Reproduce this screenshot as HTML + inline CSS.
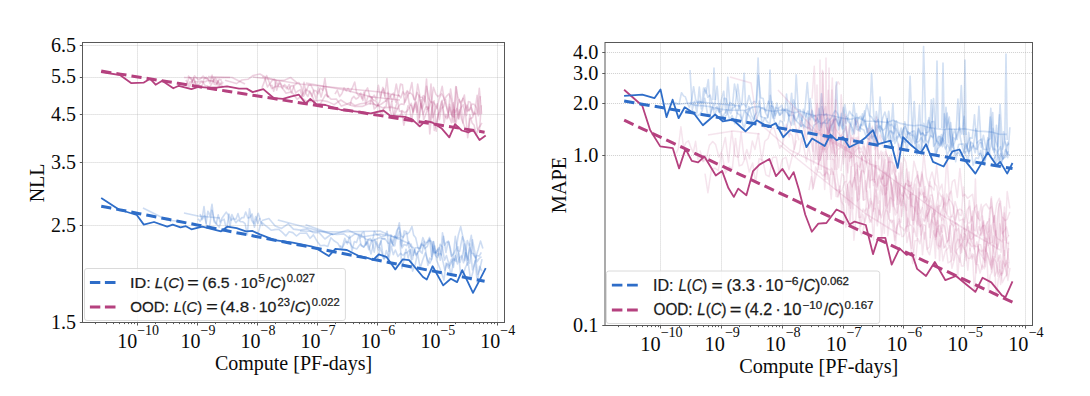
<!DOCTYPE html>
<html><head><meta charset="utf-8"><style>
html,body{margin:0;padding:0;background:#fff;}
svg{display:block;}
.serif{font-family:"Liberation Serif",serif;fill:#0a0a0a;}
.sans{font-family:"Liberation Sans",sans-serif;fill:#1a1a1a;stroke:#1a1a1a;stroke-width:0.25px;}
.it{font-style:italic;}
</style></head><body>
<svg width="1090" height="396" viewBox="0 0 1090 396">
<defs><clipPath id="clipL"><rect x="82.5" y="42.5" width="422" height="280"/></clipPath><clipPath id="clipR"><rect x="605.5" y="42.5" width="427" height="283"/></clipPath><filter id="soft" x="-5%" y="-5%" width="110%" height="110%"><feGaussianBlur stdDeviation="0.45"/></filter></defs>
<path d="M137.50,42.50V322.50M197.50,42.50V322.50M257.50,42.50V322.50M317.50,42.50V322.50M377.50,42.50V322.50M437.50,42.50V322.50M497.50,42.50V322.50M82.50,322.50H504.50M82.50,225.50H504.50M82.50,162.50H504.50M82.50,114.50H504.50M82.50,77.50H504.50M82.50,45.50H504.50" stroke="#b0b0b0" stroke-width="0.9" stroke-dasharray="1.1,0.9" fill="none" opacity="0.62"/>
<g clip-path="url(#clipL)">
<g filter="url(#soft)">
<polyline points="184.0,77.5 207.0,78.0 230.0,77.5" stroke="#b5417f" stroke-opacity="0.24" stroke-width="1.6" fill="none" stroke-linejoin="round"/>
<polyline points="208.0,76.5 232.0,77.5 245.0,84.0" stroke="#b5417f" stroke-opacity="0.24" stroke-width="1.6" fill="none" stroke-linejoin="round"/>
<polyline points="185.0,84.4 186.9,84.9 188.8,77.5 191.0,77.7 193.2,84.1 195.0,81.4 197.3,82.0 199.5,81.6 201.4,81.0 203.3,81.9 205.2,81.8 207.0,80.7 209.1,80.7 211.3,80.5 213.2,81.1 215.1,77.9 217.2,80.7 219.4,85.0 221.5,83.8 223.4,82.4" stroke="#b5417f" stroke-opacity="0.24" stroke-width="1.6" fill="none" stroke-linejoin="round"/>
<polyline points="188.0,75.6 190.1,78.0 192.2,80.8 194.5,75.8 196.6,78.0 198.6,80.0 200.6,78.6 203.1,76.2 205.7,78.5 208.3,79.6 210.6,81.1 212.6,81.4 214.6,82.0 216.9,83.9 219.2,79.4 221.8,80.3" stroke="#b5417f" stroke-opacity="0.24" stroke-width="1.6" fill="none" stroke-linejoin="round"/>
<polyline points="225.0,80.2 231.2,82.0 236.4,83.6 241.9,80.0 247.9,79.3 253.2,75.5 259.9,74.0 265.1,76.9 271.3,78.7 277.2,80.5 283.9,80.4 290.5,77.5 297.2,82.8" stroke="#b5417f" stroke-opacity="0.24" stroke-width="1.6" fill="none" stroke-linejoin="round"/>
<polyline points="186.0,79.9 188.2,85.6 190.0,81.8 191.8,82.3 193.7,79.3 195.7,84.0 197.6,84.7 199.8,86.1 201.9,86.4 204.1,78.6 206.3,77.2 208.2,79.2 210.0,83.4 212.1,75.1 214.3,84.3 216.1,84.8 218.1,80.8 220.0,84.8 222.0,81.2" stroke="#b5417f" stroke-opacity="0.24" stroke-width="1.6" fill="none" stroke-linejoin="round"/>
<polyline points="187.0,87.5 189.5,86.7 191.5,82.8 193.9,78.3 196.2,85.3 198.3,85.2 200.7,82.2 203.0,82.1 205.3,85.9 207.4,85.9 209.5,87.4 211.9,83.5 213.9,79.6 215.8,81.2 218.0,85.2 220.4,87.5 222.4,84.6" stroke="#b5417f" stroke-opacity="0.24" stroke-width="1.6" fill="none" stroke-linejoin="round"/>
<polyline points="270.0,85.7 271.9,85.2 273.7,91.2 276.1,81.0 278.1,85.6 280.0,83.1 282.4,88.5 284.5,84.5 286.5,86.5 288.5,89.7 290.9,86.1 293.3,85.6 295.7,92.9 298.1,90.9 300.3,89.7 302.2,97.0 304.0,82.2 306.0,93.7 307.9,96.5 309.9,90.9 311.9,96.4 313.7,90.4 316.0,90.8 318.0,93.9 320.4,88.0 322.8,90.1 324.9,78.3 327.2,96.4 329.3,96.3" stroke="#b5417f" stroke-opacity="0.24" stroke-width="1.6" fill="none" stroke-linejoin="round"/>
<polyline points="262.0,76.7 264.7,77.4 267.4,86.9 269.9,83.8 272.1,80.5 274.5,79.2 276.7,90.2 279.4,81.5 281.8,85.5 284.0,86.0 286.8,88.7 289.2,84.5 291.4,93.0 294.1,85.6 296.4,83.6 298.9,82.6 301.1,86.4 303.4,96.3 306.0,91.5 308.6,85.3 310.9,85.0 313.6,90.7 316.2,99.9 318.5,87.5 321.1,97.1 323.8,86.8 325.9,89.7 328.2,97.6" stroke="#b5417f" stroke-opacity="0.24" stroke-width="1.6" fill="none" stroke-linejoin="round"/>
<polyline points="262.0,87.9 266.6,75.5 271.6,88.5 276.3,86.2 281.6,87.0 286.1,93.3 291.6,91.8 297.1,99.3 301.5,96.1 305.9,89.1 311.1,93.4 315.6,104.3 320.4,103.8 325.7,94.4 331.1,99.2 336.3,99.0 341.4,106.1 345.8,104.4 350.5,102.5 355.1,105.6 360.4,103.8 366.0,103.1 370.7,100.3 376.5,106.3 381.4,104.0 386.0,100.6" stroke="#b5417f" stroke-opacity="0.24" stroke-width="1.6" fill="none" stroke-linejoin="round"/>
<polyline points="253.0,77.0 276.0,80.0 300.0,84.0 340.0,88.0 380.0,92.0 400.0,96.0" stroke="#b5417f" stroke-opacity="0.24" stroke-width="1.6" fill="none" stroke-linejoin="round"/>
<polyline points="306.0,83.0 325.0,86.5 345.0,90.0 372.0,97.0 400.0,100.0" stroke="#b5417f" stroke-opacity="0.24" stroke-width="1.6" fill="none" stroke-linejoin="round"/>
<polyline points="300.0,96.7 307.4,101.9 313.9,101.1 320.8,100.2 327.8,101.6 334.2,104.6 340.8,100.0 346.9,104.0 355.0,106.4 362.3,106.4 369.7,103.2 376.9,105.0 383.0,108.0 390.9,107.1 398.4,108.9" stroke="#b5417f" stroke-opacity="0.24" stroke-width="1.6" fill="none" stroke-linejoin="round"/>
<polyline points="335.0,94.2 337.3,90.2 339.6,96.5 341.8,93.8 344.1,87.9 346.2,90.8 348.2,88.3 350.2,91.6 352.2,88.2 354.7,82.0 356.6,93.0 358.4,95.2 360.8,93.1 362.9,100.6 365.1,91.9 367.6,87.9 369.7,96.4 372.2,97.9 374.2,95.2 376.2,99.7 378.4,85.4 380.4,97.0 382.9,87.3 384.8,96.0 386.9,78.5 389.0,98.5 391.5,94.9 393.6,93.2 395.9,102.2 398.4,94.7 400.7,97.9 402.9,91.9 404.9,94.9 407.2,90.7 409.4,93.3 411.9,82.6 413.8,99.4 415.8,99.1 417.7,84.1 420.1,97.2 422.5,97.3 424.7,101.7 426.6,86.2 428.8,98.5 431.2,102.7 433.4,87.3 435.9,94.2 438.0,96.6 440.2,94.6 442.2,86.4 444.2,100.2 446.4,96.4 448.9,93.7 451.0,99.0 453.3,122.3 455.8,86.5 457.8,96.9 460.3,102.7 462.3,100.1 464.4,95.1 466.5,115.4 468.4,101.6 470.3,102.2 472.7,114.9 474.6,113.8 477.0,113.5 479.3,88.3 481.6,114.0" stroke="#b5417f" stroke-opacity="0.24" stroke-width="1.6" fill="none" stroke-linejoin="round"/>
<polyline points="390.0,94.8 392.1,101.6 394.1,95.9 396.3,84.0 398.4,95.3 400.5,84.0 402.4,84.7 404.6,102.7 406.6,98.8 408.7,93.5 410.5,93.0 412.4,94.7 414.9,100.1 417.1,92.4 419.6,97.5 422.0,108.9 424.3,102.7 426.5,79.0 428.6,110.7 430.8,101.9 433.1,102.1 435.1,104.5 437.0,108.7 439.2,98.4 441.6,93.7 443.7,97.3 445.9,105.2 448.3,112.4 450.6,89.0 452.9,104.5 454.8,112.7 456.8,108.5 458.8,119.1 461.0,104.7 463.1,98.3 465.1,104.5 467.1,111.1 469.5,109.5 471.8,104.1 474.2,104.3 476.5,107.7 478.4,115.8 480.4,96.2" stroke="#b5417f" stroke-opacity="0.24" stroke-width="1.6" fill="none" stroke-linejoin="round"/>
<polyline points="350.0,105.5 351.8,98.6 353.9,96.4 356.0,99.0 358.1,97.7 360.2,95.0 362.1,98.9 364.0,92.1 365.8,104.1 367.9,96.4 370.0,96.6 372.0,98.9 373.7,100.3 376.1,101.3 377.8,105.4 379.8,101.5 381.8,91.9 383.7,88.8 385.8,101.2 387.6,98.4 389.8,110.5 391.7,101.7 393.8,117.8 396.1,111.3 398.1,107.1 399.9,104.6 401.8,103.9 403.9,104.6 405.7,97.2 407.4,92.0 409.4,104.8 411.4,105.6 413.1,112.9 415.0,104.1 417.1,112.5 419.1,95.0 421.2,107.6 423.2,95.6 424.9,96.7 426.8,109.4 428.8,108.0 431.0,84.1 432.8,117.7 435.0,110.9 437.2,103.8 439.4,119.7 441.3,108.5 443.6,106.7 445.6,99.5 447.3,110.7 449.3,117.0 451.5,122.7 453.3,102.7 455.1,122.0 457.0,107.9 459.2,99.5 461.0,104.6 462.9,123.0 465.1,109.4 466.9,105.1 469.1,110.9 471.1,107.6 473.2,112.9 475.2,112.3 477.2,128.1 479.4,131.7 481.3,105.3" stroke="#b5417f" stroke-opacity="0.24" stroke-width="1.6" fill="none" stroke-linejoin="round"/>
<polyline points="400.0,116.8 402.1,110.6 404.4,112.7 407.1,111.1 409.1,108.5 411.2,103.3 413.2,111.6 415.9,102.0 418.4,126.1 420.6,103.5 423.1,114.6 425.8,107.1 428.0,106.6 430.3,121.5 432.3,103.4 434.3,130.5 436.9,120.5 439.3,110.2 441.6,101.2 444.3,115.1 447.0,118.9 449.7,107.1 451.7,115.5 454.3,117.1 456.3,86.9 458.4,118.3 461.0,107.8 463.2,104.7 465.7,115.5 467.7,137.7 470.0,118.8 472.6,117.6 475.0,110.8 477.1,95.4 479.5,114.3" stroke="#b5417f" stroke-opacity="0.24" stroke-width="1.6" fill="none" stroke-linejoin="round"/>
<polyline points="370.0,104.8 371.9,96.7 374.2,109.0 376.5,106.8 378.4,104.1 380.6,113.4 382.3,112.8 384.4,107.0 386.1,106.5 387.9,92.2 389.9,109.4 391.6,115.8 393.6,115.7 395.6,107.1 397.5,100.6 399.5,111.1 401.7,111.0 403.8,125.2 405.9,115.9 408.0,105.7 409.7,108.0 411.5,122.1 413.2,109.2 415.4,100.6 417.5,107.5 419.4,117.5 421.5,99.5 423.7,119.8 425.9,113.9 428.1,107.5 429.8,133.9 432.0,108.2 434.1,100.8 436.2,131.3 438.2,114.1 439.9,111.6 442.2,100.3 444.0,123.0 445.9,114.3 448.0,117.8 449.7,104.2 451.5,114.5 453.6,109.7 455.3,125.6 457.3,117.0 459.4,109.9 461.5,118.9 463.7,124.5 465.8,129.8 468.0,133.1 469.8,114.5 472.1,122.9 474.1,125.2 476.2,135.3 478.3,128.0 480.1,126.1 481.9,122.8" stroke="#b5417f" stroke-opacity="0.24" stroke-width="1.6" fill="none" stroke-linejoin="round"/>
</g>
<g filter="url(#soft)">
<polyline points="143.0,208.0 167.0,220.0 185.0,222.0" stroke="#2e6dc8" stroke-opacity="0.24" stroke-width="1.6" fill="none" stroke-linejoin="round"/>
<polyline points="184.0,213.0 198.0,216.0 220.0,218.0" stroke="#2e6dc8" stroke-opacity="0.24" stroke-width="1.6" fill="none" stroke-linejoin="round"/>
<polyline points="198.0,218.8 200.0,221.3 202.2,217.9 204.0,206.6 206.1,223.2 207.9,211.2 210.0,215.8 212.0,204.3 214.0,221.7 216.2,224.0 218.2,214.9 220.0,222.0 221.8,218.5 224.0,215.2 226.2,212.1 228.2,215.0 230.0,227.0 231.9,214.5 233.9,218.9 236.0,219.1 238.0,213.6 239.8,219.9 241.9,217.6 243.8,217.8 245.7,212.0 247.9,217.9 249.8,217.5 252.1,214.0 254.4,227.2 256.3,219.5 258.2,213.3 260.4,219.9 262.6,226.1" stroke="#2e6dc8" stroke-opacity="0.24" stroke-width="1.6" fill="none" stroke-linejoin="round"/>
<polyline points="200.0,214.0 202.1,219.6 204.5,215.5 207.1,227.8 209.5,226.6 211.9,210.2 214.3,220.2 216.6,224.1 219.1,227.1 221.5,220.6 224.1,219.2 226.5,229.5 229.0,214.0 231.0,220.3 233.3,218.3 235.9,222.7 238.1,220.0 240.5,221.7 242.9,221.8 245.1,223.7 247.3,234.8 249.5,208.9 251.6,220.3 253.8,223.5 255.8,216.5 257.9,223.5 259.9,218.0" stroke="#2e6dc8" stroke-opacity="0.24" stroke-width="1.6" fill="none" stroke-linejoin="round"/>
<polyline points="277.8,220.0 333.0,234.4 348.0,230.0 362.0,237.0 380.0,234.0 400.0,238.0" stroke="#2e6dc8" stroke-opacity="0.24" stroke-width="1.6" fill="none" stroke-linejoin="round"/>
<polyline points="305.6,224.7 333.0,234.4" stroke="#2e6dc8" stroke-opacity="0.24" stroke-width="1.6" fill="none" stroke-linejoin="round"/>
<polyline points="300.0,231.0 340.0,232.0 380.0,231.0 410.0,244.0" stroke="#2e6dc8" stroke-opacity="0.24" stroke-width="1.6" fill="none" stroke-linejoin="round"/>
<polyline points="258.0,234.1 261.1,221.7 264.5,224.8 267.9,227.3 271.4,230.3 274.8,229.6 278.5,229.2 282.1,232.1 285.8,235.9 289.1,231.8 292.8,232.6 296.5,236.0 300.0,233.2 303.3,233.3 306.5,233.0 310.0,238.4 313.4,234.9 317.2,241.4 320.4,245.8 324.2,245.3 327.8,246.5 330.9,237.8 334.0,240.8 337.7,243.1 341.5,249.5 345.3,242.0 349.3,242.3 352.7,247.6 356.7,248.9 360.2,244.2 363.7,247.2 367.7,241.7 371.0,254.0 374.7,239.4 378.4,250.1 381.7,238.9 385.5,239.4 388.6,243.9" stroke="#2e6dc8" stroke-opacity="0.24" stroke-width="1.6" fill="none" stroke-linejoin="round"/>
<polyline points="262.0,220.4 268.9,218.6 275.2,226.1 281.6,228.4 288.1,223.8 293.4,229.1 300.2,230.1 307.0,228.9 313.5,232.7 319.1,232.6 324.9,239.0 331.6,234.0 336.9,234.4 343.8,233.9 349.3,238.1 355.3,233.7 360.7,234.6 366.0,239.4 372.9,240.8 379.1,237.8 385.4,238.7" stroke="#2e6dc8" stroke-opacity="0.24" stroke-width="1.6" fill="none" stroke-linejoin="round"/>
<polyline points="360.0,238.6 362.1,232.9 364.0,232.1 365.9,245.1 368.3,239.4 370.3,238.4 372.4,241.8 374.3,231.4 376.7,234.8 379.0,235.2 381.2,236.6 383.3,236.1 385.2,235.8 387.1,231.4 389.1,251.4 391.0,234.8 393.0,246.1 394.9,238.1 396.9,230.3 399.2,227.1 401.1,236.1 403.4,237.2 405.5,233.3 407.5,233.8 409.4,232.0 411.9,226.5 413.7,235.3 415.7,237.7 418.0,247.9 420.4,248.1 422.8,237.6 425.1,242.9 427.3,242.1 429.5,237.4 431.5,256.2 433.6,241.5 435.8,253.1 437.8,249.2 440.3,260.3 442.5,232.8 444.5,245.2 446.6,242.1 448.9,242.1 451.2,256.1 453.7,253.7 456.1,248.9 458.3,235.2 460.7,226.6 462.8,236.7 464.9,260.6 467.3,240.5 469.2,245.8 471.3,235.3 473.5,255.1 475.7,257.5 478.1,249.7 480.5,241.1 482.9,248.5" stroke="#2e6dc8" stroke-opacity="0.24" stroke-width="1.6" fill="none" stroke-linejoin="round"/>
<polyline points="390.0,237.2 392.2,243.7 394.8,235.7 397.1,238.7 399.3,231.8 401.5,246.0 404.2,230.9 406.6,231.8 408.9,247.9 411.2,244.2 413.3,255.2 415.5,247.7 417.8,247.6 419.9,250.1 422.2,243.0 424.8,248.7 427.3,246.4 429.8,238.7 431.9,246.2 434.1,253.7 436.4,251.7 439.1,247.5 441.5,254.9 443.6,236.3 445.9,252.5 448.3,241.0 450.3,248.1 452.9,260.7 455.3,236.3 457.4,250.7 459.7,251.3 462.3,236.7 464.6,241.8 467.2,256.4 469.8,263.2 472.5,239.9 475.0,253.1 477.0,261.8 479.2,258.5 481.5,256.6" stroke="#2e6dc8" stroke-opacity="0.24" stroke-width="1.6" fill="none" stroke-linejoin="round"/>
<polyline points="340.0,245.7 342.2,247.3 344.8,238.3 347.4,243.8 349.6,235.9 352.0,250.9 354.3,241.6 356.5,242.4 359.0,235.1 361.3,245.8 363.8,247.0 366.4,241.4 368.9,249.8 371.6,240.2 374.2,252.2 376.3,241.2 378.6,247.1 381.0,241.1 383.4,258.5 385.9,257.2 388.2,257.2 390.3,239.4 392.7,244.5 394.7,245.8 396.9,234.3 399.3,222.7 401.9,248.0 404.1,244.5 406.6,245.6 408.9,241.7 411.1,246.8 413.7,247.8 416.2,255.8 418.7,250.3 421.1,244.2 423.6,245.8 426.3,243.8 429.0,240.3 431.6,241.4 433.7,252.0 435.8,252.3 437.9,255.4 440.1,244.2 442.4,247.1 444.5,260.1 446.5,255.6 448.6,263.0 451.1,275.5 453.3,262.0 455.4,257.3 457.9,246.8 460.0,262.4 462.5,255.2 464.7,244.0 467.3,265.1 469.9,243.8 472.5,270.0 474.7,263.2 476.8,255.4 479.2,256.1 481.3,252.3" stroke="#2e6dc8" stroke-opacity="0.24" stroke-width="1.6" fill="none" stroke-linejoin="round"/>
<polyline points="400.0,240.9 401.9,268.5 403.7,261.4 406.0,249.2 408.2,258.1 410.5,249.5 412.5,259.3 414.3,250.1 416.2,254.5 418.1,251.7 420.0,251.1 422.1,253.3 423.9,241.5 425.8,251.3 427.9,265.3 429.7,258.1 431.5,259.6 433.2,241.8 435.3,255.0 437.4,257.7 439.3,253.4 441.1,253.9 443.0,261.7 444.9,270.3 447.1,263.5 449.1,265.4 451.4,259.3 453.4,267.4 455.3,255.8 457.4,263.9 459.3,258.0 461.7,255.7 463.5,262.7 465.8,252.7 467.6,260.2 469.8,247.4 471.8,253.4 473.9,253.8 475.8,259.8 477.7,274.4 479.7,269.6 482.0,259.1" stroke="#2e6dc8" stroke-opacity="0.24" stroke-width="1.6" fill="none" stroke-linejoin="round"/>
<polyline points="375.0,259.8 377.6,260.0 380.0,247.6 382.2,254.0 384.2,259.3 386.4,250.5 388.9,258.6 391.3,246.1 393.3,254.6 395.4,250.0 397.9,256.5 400.6,253.3 403.1,255.5 405.2,252.7 407.3,252.7 409.9,249.2 412.6,271.1 415.2,264.5 417.6,253.6 420.2,268.1 422.7,260.1 425.3,252.9 427.7,260.5 429.8,263.5 431.9,258.7 434.6,246.0 436.6,260.2 439.0,266.2 441.4,272.3 443.9,280.1 446.1,263.0 448.6,268.2 450.8,264.2 453.3,258.6 455.9,261.3 458.4,252.7 460.6,274.4 463.2,274.3 465.6,267.0 468.1,262.2 470.6,279.9 473.1,271.6 475.1,260.9 477.3,282.6 479.6,266.4 481.9,271.2" stroke="#2e6dc8" stroke-opacity="0.24" stroke-width="1.6" fill="none" stroke-linejoin="round"/>
</g>
<polyline points="101.0,72.0 120.3,75.2 131.4,83.2 143.5,82.7 150.0,78.7 155.6,84.7 162.2,80.7 173.3,88.3 178.8,85.8 191.4,89.1 198.2,86.8 207.3,87.6 216.4,87.6 227.0,86.4 239.1,88.6 246.7,88.6 252.7,92.1 263.3,89.1 273.9,98.2 283.0,98.9 290.6,96.7 298.9,94.7 305.8,103.5 310.3,98.9 316.4,104.2 325.5,105.0 341.4,110.0 352.7,111.1 370.9,113.4 383.4,110.5 390.2,115.7 405.0,116.8 411.8,119.1 419.8,126.4 425.5,120.9 432.3,122.5 441.4,128.2 449.3,137.3 455.0,124.1 461.8,130.5 468.6,132.3 473.2,130.0 479.5,140.0 485.7,135.5" stroke="#b5417f" stroke-width="1.8" fill="none" stroke-linejoin="round"/>
<polyline points="101.2,198.1 118.9,209.5 136.8,215.0 143.8,224.6 154.0,222.0 167.2,226.7 172.7,224.6 180.5,227.4 185.9,226.2 191.4,229.3 202.3,226.7 221.0,231.3 227.3,226.7 236.6,228.2 246.0,231.3 252.2,230.9 259.9,234.4 274.6,240.2 292.7,242.6 312.4,246.7 319.0,250.0 328.8,256.1 335.4,248.9 346.9,250.0 358.4,255.8 368.2,258.2 373.2,259.9 378.8,254.3 386.4,256.8 395.3,269.4 402.8,259.3 409.1,260.1 423.0,277.0 426.8,279.5 432.6,266.2 443.2,285.4 450.8,278.8 457.1,282.1 462.2,270.2 473.0,292.9 478.6,282.1 485.7,268.2" stroke="#2e6dc8" stroke-width="1.8" fill="none" stroke-linejoin="round"/>
<polyline points="101.23,206.20 110.81,208.07 120.40,209.95 129.98,211.82 139.57,213.70 149.15,215.57 158.74,217.45 168.32,219.33 177.91,221.20 187.49,223.08 197.08,224.95 206.66,226.83 216.24,228.70 225.83,230.58 235.41,232.45 245.00,234.33 254.58,236.20 264.17,238.08 273.75,239.95 283.34,241.83 292.92,243.71 302.50,245.58 312.09,247.46 321.67,249.33 331.26,251.21 340.84,253.08 350.43,254.96 360.01,256.83 369.60,258.71 379.18,260.58 388.77,262.46 398.35,264.33 407.93,266.21 417.52,268.08 427.10,269.96 436.69,271.84 446.27,273.71 455.86,275.59 465.44,277.46 475.03,279.34 484.61,281.21" stroke="#2e6dc8" stroke-width="3.00" stroke-dasharray="10.20,5.11" fill="none"/>
<polyline points="101.23,71.08 110.81,72.61 120.40,74.13 129.98,75.66 139.57,77.19 149.15,78.72 158.74,80.25 168.32,81.77 177.91,83.30 187.49,84.83 197.08,86.36 206.66,87.89 216.24,89.41 225.83,90.94 235.41,92.47 245.00,94.00 254.58,95.53 264.17,97.05 273.75,98.58 283.34,100.11 292.92,101.64 302.50,103.17 312.09,104.70 321.67,106.22 331.26,107.75 340.84,109.28 350.43,110.81 360.01,112.34 369.60,113.86 379.18,115.39 388.77,116.92 398.35,118.45 407.93,119.98 417.52,121.50 427.10,123.03 436.69,124.56 446.27,126.09 455.86,127.62 465.44,129.14 475.03,130.67 484.61,132.20" stroke="#b5417f" stroke-width="3.00" stroke-dasharray="10.20,5.11" fill="none"/>
</g>
<rect x="84.50" y="268.50" width="260.90" height="52.00" rx="2.5" fill="#ffffff" fill-opacity="0.8" stroke="#d6d6d6" stroke-width="0.9"/>
<path d="M89.90,282.50h10.40M104.90,282.50h10.60" stroke="#2e6dc8" stroke-width="2.80"/>
<path d="M89.90,307.00h10.40M104.90,307.00h10.60" stroke="#b5417f" stroke-width="2.80"/>
<text transform="translate(130.01,287.70) scale(1.0567,1)" font-size="15.40" class="sans">ID:</text>
<text transform="translate(154.81,287.70) scale(0.9825,1)" font-size="15.40" class="sans"><tspan font-style="italic">L</tspan>(<tspan font-style="italic">C</tspan>)</text>
<text transform="translate(187.34,287.70) scale(1.2800,1)" font-size="15.40" class="sans">=</text>
<text transform="translate(202.37,287.70) scale(1.0280,1)" font-size="15.40" class="sans">(6.5</text>
<text transform="translate(233.40,287.70) scale(1.0000,1)" font-size="15.40" class="sans">·</text>
<text transform="translate(240.77,287.70) scale(0.9836,1)" font-size="15.40" class="sans">10</text>
<text transform="translate(258.35,281.70) scale(1.1000,1)" font-size="10.78" class="sans">5</text>
<text transform="translate(266.00,287.70) scale(0.9671,1)" font-size="15.40" class="sans">/<tspan font-style="italic">C</tspan>)</text>
<text transform="translate(286.78,281.70) scale(1.0423,1)" font-size="10.78" class="sans">0.027</text>
<text transform="translate(130.26,312.10) scale(0.9852,1)" font-size="15.40" class="sans">OOD:</text>
<text transform="translate(173.63,312.10) scale(0.9474,1)" font-size="15.40" class="sans"><tspan font-style="italic">L</tspan>(<tspan font-style="italic">C</tspan>)</text>
<text transform="translate(206.14,312.10) scale(1.2800,1)" font-size="15.40" class="sans">=</text>
<text transform="translate(220.00,312.10) scale(1.0990,1)" font-size="15.40" class="sans">(4.8</text>
<text transform="translate(251.50,312.10) scale(1.0000,1)" font-size="15.40" class="sans">·</text>
<text transform="translate(258.70,312.10) scale(1.0361,1)" font-size="15.40" class="sans">10</text>
<text transform="translate(277.48,306.10) scale(1.0364,1)" font-size="10.78" class="sans">23</text>
<text transform="translate(290.50,312.10) scale(0.9924,1)" font-size="15.40" class="sans">/<tspan font-style="italic">C</tspan>)</text>
<text transform="translate(311.78,306.10) scale(1.0308,1)" font-size="10.78" class="sans">0.022</text>
<rect x="82.50" y="42.50" width="422.00" height="280.00" fill="none" stroke="#585858" stroke-width="1"/>
<path d="M137.50,322.50v3.00M197.50,322.50v3.00M257.50,322.50v3.00M317.50,322.50v3.00M377.50,322.50v3.00M437.50,322.50v3.00M497.50,322.50v3.00M95.50,322.50v1.60M106.50,322.50v1.60M113.50,322.50v1.60M119.50,322.50v1.60M124.50,322.50v1.60M128.50,322.50v1.60M131.50,322.50v1.60M134.50,322.50v1.60M155.50,322.50v1.60M166.50,322.50v1.60M173.50,322.50v1.60M179.50,322.50v1.60M184.50,322.50v1.60M188.50,322.50v1.60M191.50,322.50v1.60M194.50,322.50v1.60M215.50,322.50v1.60M226.50,322.50v1.60M233.50,322.50v1.60M239.50,322.50v1.60M244.50,322.50v1.60M248.50,322.50v1.60M251.50,322.50v1.60M254.50,322.50v1.60M275.50,322.50v1.60M286.50,322.50v1.60M293.50,322.50v1.60M299.50,322.50v1.60M304.50,322.50v1.60M308.50,322.50v1.60M311.50,322.50v1.60M314.50,322.50v1.60M335.50,322.50v1.60M345.50,322.50v1.60M353.50,322.50v1.60M359.50,322.50v1.60M364.50,322.50v1.60M368.50,322.50v1.60M371.50,322.50v1.60M374.50,322.50v1.60M395.50,322.50v1.60M405.50,322.50v1.60M413.50,322.50v1.60M419.50,322.50v1.60M423.50,322.50v1.60M427.50,322.50v1.60M431.50,322.50v1.60M434.50,322.50v1.60M455.50,322.50v1.60M465.50,322.50v1.60M473.50,322.50v1.60M479.50,322.50v1.60M483.50,322.50v1.60M487.50,322.50v1.60M491.50,322.50v1.60M494.50,322.50v1.60M82.50,322.50h-2.70M82.50,225.50h-2.70M82.50,162.50h-2.70M82.50,114.50h-2.70M82.50,77.50h-2.70M82.50,45.50h-2.70" stroke="#585858" stroke-width="1" fill="none"/>
<text x="76.00" y="328.58" font-size="20.00" text-anchor="end" class="serif">1.5</text>
<text x="76.00" y="232.20" font-size="20.00" text-anchor="end" class="serif">2.5</text>
<text x="76.00" y="168.71" font-size="20.00" text-anchor="end" class="serif">3.5</text>
<text x="76.00" y="121.29" font-size="20.00" text-anchor="end" class="serif">4.5</text>
<text x="76.00" y="83.43" font-size="20.00" text-anchor="end" class="serif">5.5</text>
<text x="76.00" y="51.91" font-size="20.00" text-anchor="end" class="serif">6.5</text>
<text x="138.10" y="348.30" font-size="20.00" text-anchor="middle" class="serif">10<tspan dy="-13.30" font-size="14.00">&#8722;10</tspan></text>
<text x="198.05" y="348.30" font-size="20.00" text-anchor="middle" class="serif">10<tspan dy="-13.30" font-size="14.00">&#8722;9</tspan></text>
<text x="258.00" y="348.30" font-size="20.00" text-anchor="middle" class="serif">10<tspan dy="-13.30" font-size="14.00">&#8722;8</tspan></text>
<text x="317.95" y="348.30" font-size="20.00" text-anchor="middle" class="serif">10<tspan dy="-13.30" font-size="14.00">&#8722;7</tspan></text>
<text x="377.90" y="348.30" font-size="20.00" text-anchor="middle" class="serif">10<tspan dy="-13.30" font-size="14.00">&#8722;6</tspan></text>
<text x="437.85" y="348.30" font-size="20.00" text-anchor="middle" class="serif">10<tspan dy="-13.30" font-size="14.00">&#8722;5</tspan></text>
<text x="497.80" y="348.30" font-size="20.00" text-anchor="middle" class="serif">10<tspan dy="-13.30" font-size="14.00">&#8722;4</tspan></text>
<text x="293.50" y="369.70" font-size="20.00" text-anchor="middle" class="serif">Compute [PF-days]</text>
<text transform="translate(44.30,182.90) rotate(-90)" font-size="20.00" text-anchor="middle" class="serif">NLL</text>
<path d="M660.50,42.50V325.50M721.50,42.50V325.50M782.50,42.50V325.50M843.50,42.50V325.50M903.50,42.50V325.50M964.50,42.50V325.50M1025.50,42.50V325.50M605.00,325.50H1032.50M605.00,155.50H1032.50M605.00,103.50H1032.50M605.00,73.50H1032.50M605.00,52.50H1032.50" stroke="#b0b0b0" stroke-width="0.9" stroke-dasharray="1.1,0.9" fill="none" opacity="0.62"/>
<g clip-path="url(#clipR)">
<g filter="url(#soft)">
<polyline points="690.0,70.0 692.3,109.6 694.5,101.3 696.9,113.0 699.3,87.1 701.3,109.0 703.6,88.0 706.0,93.3 708.3,79.5 710.7,113.9 712.6,105.9 714.6,115.3 717.0,108.3 719.1,112.0 721.3,100.1 723.7,91.2 725.9,113.1 727.8,77.3 730.3,110.2 732.2,108.0 734.5,84.1 737.0,95.9 739.4,108.8 741.9,103.2 744.2,73.4 746.3,122.2 748.7,111.0 750.7,108.6 752.6,107.2 754.6,118.9 756.6,119.4 758.8,112.8 761.3,108.0 763.8,107.6 766.0,111.8 768.4,101.3 770.7,109.5 773.1,118.1 775.6,107.4 777.6,108.7 779.7,107.5 781.9,105.1 784.1,120.9 786.5,94.1 788.9,116.0 790.9,115.5 793.0,114.9 795.0,119.5 797.2,121.9 799.1,123.7 801.1,126.6 803.3,109.3 805.5,116.7 807.9,111.0 810.0,119.7 812.2,110.8 814.1,118.7 816.7,121.7 819.0,108.2 821.1,127.5 823.1,122.5 825.2,123.3 827.3,123.4 829.8,119.2 832.1,131.0 834.2,115.7 836.6,120.9 838.7,125.4 841.2,119.3 843.4,107.2 845.9,123.8 848.1,117.7 850.2,122.6 852.6,134.4 854.7,119.9 856.5,129.1 858.6,130.7 860.7,124.3 862.6,125.6 864.8,119.8 867.3,132.5 869.6,123.3 871.8,138.4 874.2,135.0 876.6,143.3 878.5,127.4 880.7,125.8 883.0,133.5 884.9,142.0 887.2,118.7 889.3,144.2 891.5,130.9 893.8,133.7 895.9,128.3 897.8,132.5 899.7,135.5 901.8,138.5 903.7,128.0 905.7,136.8 907.6,138.0 910.1,76.3 912.2,131.4 914.2,135.2 916.2,150.8 918.4,129.1 920.6,134.0 922.7,132.6 924.8,136.9 927.3,150.1 929.3,137.0 931.3,99.8 933.6,146.4 935.8,143.1 938.3,136.2 940.5,136.5 942.4,146.7 944.3,113.9 946.8,127.8 949.3,117.1 951.3,151.1 953.3,137.5 955.7,139.6 957.9,99.1 960.2,137.0 962.6,148.3 964.5,153.1 966.9,150.8 968.7,132.2 970.8,148.0 973.1,145.5 975.2,152.7 977.1,142.8 979.4,140.5 981.6,139.1 983.5,149.2 985.8,149.5 987.8,148.9 990.2,117.0 992.1,145.5 994.1,152.4 996.5,125.4 998.5,163.3 1000.7,153.5 1002.8,159.3 1005.4,149.5 1007.8,154.1 1009.9,155.3" stroke="#2e6dc8" stroke-opacity="0.22" stroke-width="1.6" fill="none" stroke-linejoin="round"/>
<polyline points="692.0,110.2 694.6,112.5 697.3,115.8 699.7,114.5 702.2,110.6 704.8,98.2 707.3,112.8 709.6,116.1 712.3,107.6 714.7,109.5 717.0,106.3 719.7,112.4 722.2,118.2 724.4,113.7 726.9,109.8 729.6,119.8 732.1,115.7 734.9,123.7 737.3,112.9 739.5,104.5 741.7,120.1 744.0,129.0 746.3,119.7 748.8,106.5 751.5,115.3 753.9,120.0 756.0,112.4 758.1,58.0 760.5,116.3 763.0,117.5 765.3,118.0 767.6,117.9 770.3,95.3 773.0,116.0 775.4,125.4 778.0,127.8 780.1,120.6 782.8,122.3 785.0,131.3 787.1,125.7 789.2,116.4 791.6,93.3 794.0,124.6 796.2,74.9 798.7,115.6 801.0,126.4 803.2,124.8 805.4,126.7 808.0,128.5 810.2,98.6 812.7,117.3 814.9,121.8 817.2,118.7 819.9,123.2 822.2,123.4 824.6,121.5 827.3,118.4 829.4,131.4 832.0,139.4 834.2,126.2 836.4,82.0 838.6,129.9 841.0,118.0 843.4,135.2 845.5,125.7 848.0,142.4 850.1,124.9 852.2,127.5 854.3,133.7 856.5,113.5 858.7,126.3 861.2,128.8 863.9,130.0 866.4,137.3 869.0,139.5 871.8,134.9 874.0,145.2 876.3,111.6 878.9,125.6 880.9,127.9 883.2,130.4 885.3,128.3 887.5,120.9 889.7,134.7 892.4,141.4 894.7,121.3 897.2,140.7 899.5,149.1 902.2,147.6 904.6,137.7 906.9,150.6 909.6,135.1 911.7,146.3 914.2,101.6 916.9,154.4 918.9,144.4 921.2,154.4 923.8,123.3 925.9,132.4 928.3,120.2 930.5,125.6 933.3,135.8 935.6,155.3 937.7,148.8 939.9,146.3 942.4,137.3 944.8,129.7 946.9,155.7 949.3,150.3 951.6,129.5 953.9,148.8 956.1,154.7 958.5,152.5 961.2,156.2 963.9,150.9 965.9,143.8 968.4,151.6 970.6,150.5 973.3,146.2 975.8,128.9 978.3,154.2 980.6,153.4 983.2,161.6 985.4,159.6 987.8,137.9 990.4,157.3 992.5,160.0 995.2,157.2 997.8,151.8 1000.5,146.7 1003.0,158.8 1005.5,154.5 1008.0,141.7" stroke="#2e6dc8" stroke-opacity="0.22" stroke-width="1.6" fill="none" stroke-linejoin="round"/>
<polyline points="696.0,105.0 698.4,104.5 700.7,101.9 702.9,103.0 705.2,87.8 707.8,97.3 710.1,95.0 712.4,104.0 714.6,105.7 717.1,86.4 719.4,112.2 722.0,110.5 724.0,98.4 726.2,98.8 728.7,109.9 730.7,113.7 732.9,108.1 735.2,106.1 737.7,84.3 740.1,102.6 742.1,104.7 744.1,103.9 746.4,107.0 749.0,95.5 751.6,104.7 753.9,101.5 756.4,102.2 758.4,75.4 760.6,97.7 763.2,98.5 765.3,112.6 767.9,117.2 770.5,105.3 773.2,107.0 775.2,115.7 777.5,110.8 780.0,115.0 782.5,108.3 784.9,110.6 786.9,112.3 789.0,115.7 791.1,113.7 793.6,99.8 795.6,107.4 797.9,110.1 800.1,109.8 802.3,120.5 804.9,109.4 807.3,82.6 809.7,113.7 812.1,117.2 814.5,115.6 817.1,117.3 819.6,130.3 821.7,106.6 824.0,115.4 826.5,113.7 828.9,120.6 831.1,118.2 833.3,113.8 835.4,110.5 838.0,114.4 840.1,123.1 842.5,128.9 844.7,104.5 847.2,118.7 849.5,111.3 851.7,114.8 853.9,116.1 856.2,124.3 858.2,118.4 860.4,116.3 862.5,119.6 864.7,115.4 866.9,104.4 869.5,115.7 871.6,117.0 873.6,120.6 876.2,122.5 878.2,119.5 880.2,131.4 882.6,118.1 884.9,112.0 887.2,121.2 889.7,125.7 891.8,124.3 894.4,128.7 896.4,120.7 898.9,134.9 900.9,134.7 903.1,129.5 905.2,126.5 907.1,131.4 909.5,133.7 911.7,131.9 914.1,130.8 916.6,139.0 918.7,128.1 920.7,134.8 922.7,133.4 924.8,135.6 926.9,135.0 929.0,117.6 931.1,136.7 933.5,98.5 936.1,140.6 938.3,142.1 940.5,145.7 942.5,137.9 944.9,143.8 947.1,113.1 949.6,132.7 952.2,147.2 954.4,142.8 956.6,136.0 958.9,129.0 961.3,85.5 963.8,134.8 965.9,148.9 968.0,143.4 970.0,137.7 972.3,138.2 974.5,114.7 976.7,142.9 978.9,106.4 981.3,147.2 983.4,135.2 985.7,146.7 988.2,153.4 990.8,146.6 993.0,128.3 995.6,141.2 997.7,146.8 1000.1,104.4 1002.5,149.1 1004.7,140.7 1006.8,145.8 1009.1,143.4" stroke="#2e6dc8" stroke-opacity="0.22" stroke-width="1.6" fill="none" stroke-linejoin="round"/>
<polyline points="720.0,109.2 722.4,116.8 724.8,116.9 727.1,114.3 729.6,102.5 732.2,103.9 734.6,104.9 737.1,113.4 739.8,114.7 742.0,119.9 744.4,110.7 747.2,113.8 749.9,116.6 752.5,123.3 754.9,116.0 757.2,112.1 759.3,101.1 762.1,124.2 764.7,118.0 767.5,122.3 770.0,123.2 772.2,101.5 774.7,118.5 776.8,103.1 779.4,115.3 782.1,113.1 784.4,109.6 787.0,109.0 789.3,120.6 791.6,125.2 793.8,114.9 796.2,120.6 799.0,113.8 801.7,120.1 804.1,127.9 806.3,113.8 808.9,123.1 811.4,133.3 814.0,125.1 816.5,123.3 819.0,121.3 821.5,93.8 823.7,115.8 826.1,126.7 828.8,133.0 831.3,126.0 834.0,120.0 836.5,118.9 839.2,126.0 841.3,113.4 843.5,128.7 846.1,116.6 848.8,122.3 851.6,124.9 853.8,103.1 856.3,125.1 859.1,129.9 861.9,123.3 864.5,110.8 867.2,134.6 869.7,132.4 871.9,128.0 874.1,136.8 876.9,125.2 879.7,128.9 882.2,137.5 884.5,142.1 887.3,136.9 889.9,130.8 892.4,133.3 894.8,143.5 897.3,138.0 899.8,136.2 902.2,139.5 904.8,121.8 907.3,134.5 909.5,132.9 911.9,134.1 914.4,136.6 916.7,142.2 918.9,141.4 921.2,137.6 924.0,143.0 926.2,133.0 928.7,131.8 931.5,121.9 934.0,121.5 936.6,153.2 939.1,136.8 941.4,145.0 943.6,138.1 946.0,107.3 948.4,142.7 950.7,122.6 953.0,143.0 955.7,161.6 958.5,144.6 961.1,144.0 963.6,144.1 965.7,154.2 967.9,161.6 970.4,142.7 973.1,165.2 975.9,157.8 978.4,158.5 980.6,150.5 982.9,159.7 985.5,155.3 987.7,140.7 990.5,138.5 992.7,112.6 995.3,166.3 998.1,153.8 1000.5,163.6 1003.2,158.5 1005.8,157.0 1008.2,151.2" stroke="#2e6dc8" stroke-opacity="0.22" stroke-width="1.6" fill="none" stroke-linejoin="round"/>
<polyline points="860.0,132.0 862.4,113.8 864.7,124.5 867.1,128.6 869.1,136.0 871.6,73.6 873.7,114.3 876.0,133.1 878.2,126.2 880.1,97.1 882.1,127.6 884.1,143.0 886.5,130.9 888.7,111.2 890.9,131.6 892.9,103.5 894.8,139.8 897.1,136.4 899.0,135.8 901.1,128.1 903.4,141.5 905.8,142.6 908.0,131.7 909.9,134.8 912.4,135.7 914.8,143.6 917.3,138.7 919.5,105.0 921.6,152.1 923.6,46.6 926.1,140.1 928.2,142.8 930.7,135.5 933.0,137.8 934.8,128.9 937.2,142.5 939.1,145.8 941.5,134.5 943.5,143.8 945.5,149.0 947.6,144.3 950.1,150.7 952.6,136.7 954.7,129.5 957.2,139.4 959.4,127.3 961.8,133.9 964.2,116.3 966.6,143.7 968.6,153.3 970.7,141.8 972.8,143.6 975.0,148.5 977.1,149.2 979.5,142.5 981.9,143.3 984.1,165.2 986.1,154.2 988.6,148.6 990.8,108.2 992.9,149.7 995.0,149.0 997.4,152.6 999.4,114.7 1001.4,166.5 1003.5,131.7 1005.9,148.6 1007.7,157.7 1009.9,127.3" stroke="#2e6dc8" stroke-opacity="0.22" stroke-width="1.6" fill="none" stroke-linejoin="round"/>
<polyline points="690.0,103.8 696.7,105.8 702.6,105.7 710.1,106.6 717.4,108.2 723.8,109.6 731.3,110.2 739.1,110.3 745.6,110.4 751.8,107.1 758.4,106.6 765.7,110.0 773.2,111.4 779.3,110.1 787.1,110.2 794.1,112.9 800.7,111.3 807.6,113.8 814.4,115.5 822.1,114.5 829.2,115.0 836.4,116.8 844.4,118.5 851.1,119.3 857.9,117.5 865.0,121.2 872.0,121.2 879.7,121.6 886.9,122.5 893.2,120.3 900.4,123.4 907.3,124.9 914.0,125.8 920.8,125.1 928.6,127.5 936.0,128.6 942.7,129.4 949.5,129.1 956.9,129.2 964.2,128.8 971.5,130.0 977.9,131.1 984.0,131.4 991.7,132.1 999.3,134.3 1006.9,134.4" stroke="#2e6dc8" stroke-opacity="0.22" stroke-width="1.6" fill="none" stroke-linejoin="round"/>
<polyline points="662.0,104.0 680.0,104.0 700.0,102.0 720.0,104.0 740.0,106.0" stroke="#2e6dc8" stroke-opacity="0.22" stroke-width="1.6" fill="none" stroke-linejoin="round"/>
<polyline points="675.0,102.5 677.1,103.5 679.1,104.1 681.5,92.7 683.5,95.9 685.4,96.9 687.4,103.1 689.5,107.4 691.6,99.8 693.6,86.7 695.6,99.5 697.7,103.2 699.7,100.6" stroke="#2e6dc8" stroke-opacity="0.22" stroke-width="1.6" fill="none" stroke-linejoin="round"/>
<polyline points="712.8,100.0 714.0,68.0 715.2,100.0" stroke="#2e6dc8" stroke-opacity="0.22" stroke-width="1.6" fill="none" stroke-linejoin="round"/>
<polyline points="768.8,104.0 770.0,70.0 771.2,104.0" stroke="#2e6dc8" stroke-opacity="0.22" stroke-width="1.6" fill="none" stroke-linejoin="round"/>
<polyline points="935.8,128.0 937.0,61.0 938.2,128.0" stroke="#2e6dc8" stroke-opacity="0.22" stroke-width="1.6" fill="none" stroke-linejoin="round"/>
<polyline points="941.8,128.0 943.0,63.0 944.2,128.0" stroke="#2e6dc8" stroke-opacity="0.22" stroke-width="1.6" fill="none" stroke-linejoin="round"/>
<polyline points="963.8,135.0 965.0,60.0 966.2,135.0" stroke="#2e6dc8" stroke-opacity="0.22" stroke-width="1.6" fill="none" stroke-linejoin="round"/>
<polyline points="1004.8,140.0 1006.0,54.0 1007.2,140.0" stroke="#2e6dc8" stroke-opacity="0.22" stroke-width="1.6" fill="none" stroke-linejoin="round"/>
</g>
<g filter="url(#soft)">
<polyline points="790.0,133.4 792.3,135.5 794.3,149.2 796.3,129.6 798.3,132.7 800.5,120.6 802.5,124.5 804.3,131.3 806.7,139.6 808.8,117.8 811.1,141.4 813.1,151.6 815.2,120.7 817.2,103.4 819.4,119.4 821.6,114.7 823.5,152.0 825.6,148.0 828.0,141.3 830.1,126.2 832.6,123.4 834.8,118.1 836.9,148.3 839.1,142.9 841.2,94.8 843.2,125.7 845.3,114.3 847.5,149.1 849.3,152.7 851.2,135.3 853.3,141.0 855.6,119.1 857.8,123.4 859.8,153.1 862.1,160.5 864.1,146.4 866.0,150.7 867.9,157.0 869.8,131.7 872.1,166.7 874.3,179.1 876.6,137.6 878.8,158.8 881.0,150.9 882.8,178.7 885.2,159.7 887.4,189.9 889.2,175.2 891.3,154.1 893.3,171.0 895.6,176.5 897.8,184.0 899.9,190.5 901.9,205.8 904.0,195.6 906.5,168.9 908.8,193.9 910.7,194.6 912.9,194.4 915.2,183.9 917.4,214.3 919.8,186.7 921.7,172.0 923.6,182.0 925.8,201.5 927.9,209.5 930.2,195.2 932.2,195.1 934.5,214.3 936.7,202.5 938.7,191.5 940.8,195.9 942.6,197.5 944.5,217.1 946.6,194.0 948.9,199.3 950.9,217.0 953.0,213.9 955.1,201.5 957.3,209.3 959.5,215.1 961.3,215.5 963.5,186.9 965.5,213.8 967.5,222.7 969.7,223.1 972.0,216.4 973.9,229.8 975.7,230.8 978.0,211.4 980.3,230.3 982.7,225.9 985.0,225.3 987.2,233.8 989.2,231.0 991.1,198.7 993.5,215.0 995.4,243.3 997.7,247.0 999.7,223.8 1002.0,233.8 1004.2,231.0 1006.5,226.8 1008.4,235.8" stroke="#b5417f" stroke-opacity="0.14" stroke-width="1.5" fill="none" stroke-linejoin="round"/>
<polyline points="827.0,138.8 829.1,122.9 831.1,144.0 833.4,142.7 835.4,156.9 837.7,149.3 839.6,148.5 841.6,137.1 843.7,134.9 845.6,157.2 847.3,137.1 849.5,124.0 851.7,157.6 853.7,145.5 856.0,147.3 857.8,136.9 859.6,169.6 861.9,156.7 864.2,173.7 866.5,163.4 868.5,128.6 870.4,180.7 872.2,179.5 874.5,182.2 876.4,117.0 878.2,164.9 880.5,170.7 882.8,152.2 884.9,194.9 886.7,193.0 889.0,157.2 891.0,186.2 892.9,206.3 894.8,170.3 897.0,204.8 898.9,173.1 900.9,194.7 903.1,196.1 905.4,186.1 907.3,180.0 909.3,182.0 911.1,205.3 913.4,206.8 915.2,211.0 917.5,171.4 919.7,196.0 921.5,189.0 923.6,197.0 925.9,196.7 927.9,202.0 930.0,181.7 932.3,195.7 934.4,206.8 936.6,236.5 938.5,206.1 940.6,206.0 942.5,195.1 944.8,211.0 946.9,214.1 949.0,194.5 951.2,191.1 953.1,206.3 955.1,223.4 957.2,209.6 959.2,220.7 961.1,219.9 963.3,219.3 965.3,231.5 967.1,228.7 969.3,200.4 971.4,224.3 973.3,244.0 975.4,179.0 977.3,231.2 979.4,235.7 981.7,233.3 983.6,220.5 985.6,251.5 987.9,234.4 989.9,242.6 992.1,225.6 994.2,215.6 996.2,236.3 998.0,239.1 999.8,239.8 1002.1,242.0 1004.4,206.9 1006.6,242.6 1008.8,243.8" stroke="#b5417f" stroke-opacity="0.14" stroke-width="1.5" fill="none" stroke-linejoin="round"/>
<polyline points="804.0,142.0 806.5,119.8 809.0,132.8 811.6,109.5 813.5,163.9 816.0,141.7 818.5,163.9 820.9,155.4 823.3,145.1 825.8,152.3 828.0,127.6 830.0,143.4 832.0,152.9 834.1,127.0 836.4,145.4 838.7,167.8 841.2,135.3 843.4,163.9 845.5,142.8 847.9,172.8 850.4,151.6 852.7,166.0 855.2,141.8 857.6,169.5 859.6,181.6 861.9,170.0 864.0,171.9 866.4,191.4 868.7,166.5 870.7,155.9 872.6,179.4 874.7,179.6 876.7,187.4 879.0,175.9 881.2,179.4 883.3,176.4 885.4,205.7 887.7,163.0 889.9,212.4 891.9,191.8 894.1,180.4 896.6,195.6 899.0,201.0 901.4,163.0 903.8,190.3 906.4,195.6 908.8,199.1 911.0,192.2 913.5,232.1 915.6,197.5 918.0,203.8 920.4,213.0 922.7,206.0 925.2,186.4 927.7,221.5 930.1,198.1 932.6,205.6 934.7,215.2 937.1,206.2 939.7,216.7 942.3,208.6 944.6,203.0 946.9,215.6 949.1,217.0 951.1,223.6 953.5,226.1 955.9,222.6 958.3,225.0 960.6,239.8 962.9,217.9 965.0,239.5 967.3,223.9 969.8,238.6 972.0,239.4 974.3,235.2 976.8,236.2 979.0,226.5 981.4,235.6 983.4,221.9 985.4,241.4 987.4,221.7 989.8,243.3 992.3,242.2 994.6,215.7 997.1,248.9 999.6,240.5 1002.2,217.3 1004.5,255.5 1006.8,238.1 1009.1,235.2" stroke="#b5417f" stroke-opacity="0.14" stroke-width="1.5" fill="none" stroke-linejoin="round"/>
<polyline points="841.0,171.1 842.9,151.7 844.9,146.9 846.7,180.9 848.5,144.3 850.3,158.1 852.1,155.9 853.8,157.3 855.6,189.7 857.7,165.3 859.7,167.2 861.7,155.6 863.5,171.9 865.6,156.2 867.6,167.5 869.6,187.7 871.6,166.6 873.5,185.6 875.8,165.4 877.6,185.9 879.3,174.6 881.3,182.7 883.4,168.3 885.4,151.7 887.7,157.0 890.0,176.3 891.9,187.0 894.2,200.6 896.3,176.2 898.3,205.0 900.4,200.8 902.2,192.8 904.5,199.9 906.7,210.5 908.9,172.0 911.0,206.9 913.3,191.1 915.4,219.3 917.6,225.0 919.3,192.3 921.4,194.9 923.7,192.5 925.7,218.2 927.5,214.9 929.2,211.6 931.2,206.0 933.4,210.0 935.6,225.1 937.6,220.5 939.9,235.1 942.1,217.7 944.4,220.2 946.7,241.9 948.6,240.2 950.8,217.0 953.0,216.1 954.7,220.7 956.5,230.7 958.4,228.6 960.2,253.6 962.3,229.6 964.2,228.3 966.5,245.9 968.4,226.7 970.5,238.7 972.6,244.3 974.7,250.0 976.9,262.4 978.6,242.9 980.6,233.0 982.5,216.0 984.8,262.3 986.6,238.2 988.5,245.3 990.7,225.2 992.8,247.9 995.0,257.3 996.8,247.5 999.0,203.6 1001.0,252.4 1002.8,239.7 1004.9,266.5 1006.9,263.1 1008.7,248.1" stroke="#b5417f" stroke-opacity="0.14" stroke-width="1.5" fill="none" stroke-linejoin="round"/>
<polyline points="818.0,165.1 820.1,147.0 822.6,145.5 824.7,189.5 826.7,150.5 828.7,145.7 830.8,138.0 833.1,145.7 835.2,160.0 837.2,177.0 839.4,191.6 841.8,173.7 844.0,176.3 846.4,193.7 848.7,205.1 850.8,171.5 853.2,138.8 855.3,173.1 857.3,200.9 859.4,198.7 861.3,163.9 863.3,199.9 865.2,199.5 867.1,181.4 869.1,170.2 871.2,202.4 873.4,211.3 875.9,161.6 877.9,189.9 880.0,178.9 882.0,184.1 884.4,186.1 886.9,184.9 889.4,174.1 891.9,187.8 894.1,206.8 896.4,212.4 898.6,182.2 900.8,205.8 903.1,198.6 905.5,183.4 907.5,231.5 909.7,195.3 911.8,219.9 913.7,220.3 916.0,195.7 918.5,217.9 920.5,225.7 922.7,207.5 924.6,220.7 926.5,210.6 929.0,227.6 931.1,221.6 933.3,211.0 935.5,239.5 937.9,226.7 939.9,225.2 942.3,232.2 944.4,214.1 946.4,221.8 948.9,237.4 951.1,252.5 953.5,238.0 956.0,224.1 958.4,246.5 960.7,234.6 962.7,239.7 964.6,249.4 967.0,242.3 969.5,237.5 971.6,224.8 973.7,238.5 976.2,272.9 978.3,244.5 980.7,244.7 982.6,255.0 984.6,236.9 987.1,241.3 989.3,218.8 991.3,272.1 993.7,245.9 995.7,230.4 997.8,261.3 1000.3,254.8 1002.3,268.4 1004.2,212.9 1006.6,247.0 1009.0,262.5" stroke="#b5417f" stroke-opacity="0.14" stroke-width="1.5" fill="none" stroke-linejoin="round"/>
<polyline points="795.0,156.4 797.1,154.6 799.5,152.0 801.6,137.7 804.0,148.2 806.4,161.6 808.5,145.8 810.6,156.8 812.7,189.4 814.8,181.1 816.7,173.4 818.9,162.5 820.9,158.3 822.9,143.3 824.9,176.7 827.0,168.0 829.3,183.7 831.6,168.2 833.4,173.1 835.8,185.2 837.8,196.1 839.6,191.5 842.0,190.6 844.4,182.1 846.4,181.4 848.3,189.8 850.5,208.3 852.4,184.4 854.5,177.0 856.9,169.6 859.3,194.8 861.2,171.1 863.5,200.1 865.3,180.7 867.1,197.4 869.2,208.3 871.6,201.2 873.6,207.5 875.4,181.4 877.6,208.1 879.7,214.7 882.0,170.6 884.3,233.3 886.5,187.8 888.8,219.3 891.1,182.7 893.3,202.5 895.2,215.0 897.2,212.8 899.6,198.0 901.6,216.6 903.6,202.1 905.6,207.6 907.5,225.4 909.4,225.8 911.3,182.2 913.2,224.5 915.7,206.9 918.1,222.7 920.1,226.9 922.0,224.1 924.4,239.1 926.6,219.4 928.8,211.6 930.9,205.3 933.3,232.3 935.3,237.0 937.7,228.2 939.9,236.2 942.2,224.6 944.4,226.0 946.5,237.3 948.5,245.5 950.5,226.5 952.8,220.7 955.2,251.8 957.6,254.7 959.8,262.3 961.8,243.8 964.1,236.4 966.1,260.6 968.0,233.0 970.2,250.8 972.6,211.1 974.5,249.0 976.9,241.8 978.8,250.7 980.9,254.4 983.0,257.9 985.0,260.3 987.2,241.9 989.3,248.4 991.5,269.2 993.7,235.9 995.9,259.0 997.8,276.2 999.8,269.8 1001.7,275.3 1004.1,267.9 1006.3,260.5 1008.4,268.3" stroke="#b5417f" stroke-opacity="0.14" stroke-width="1.5" fill="none" stroke-linejoin="round"/>
<polyline points="832.0,158.8 834.1,160.2 836.1,196.4 838.0,197.1 839.9,185.9 841.8,212.6 843.6,191.0 845.6,202.4 847.4,184.8 849.6,220.3 851.3,166.4 853.1,208.8 855.0,164.6 856.8,162.8 859.0,194.9 860.8,226.5 862.8,214.5 864.7,222.5 866.8,214.2 868.6,206.8 870.4,198.5 872.2,217.6 874.1,203.9 876.1,189.2 878.2,203.3 880.3,185.9 882.6,194.5 884.5,172.6 886.4,208.6 888.5,203.4 890.3,197.4 892.3,199.3 894.5,226.2 896.4,233.3 898.2,206.4 900.1,226.7 902.3,228.0 904.3,230.9 906.3,226.5 908.5,226.3 910.7,246.6 912.7,263.4 914.9,240.8 917.1,240.4 918.9,213.2 920.8,234.9 922.8,218.7 924.7,221.8 926.5,214.2 928.5,200.1 930.2,237.7 932.5,213.8 934.5,217.4 936.3,229.1 938.1,245.2 940.3,247.0 942.6,235.1 944.4,247.2 946.3,243.4 948.2,240.0 949.9,225.5 951.7,243.8 953.5,260.2 955.7,244.0 957.6,239.3 959.6,240.2 961.7,252.5 963.8,232.9 966.0,235.4 967.9,242.1 969.9,243.9 972.1,246.8 973.8,245.3 976.1,246.5 978.3,246.3 980.4,261.6 982.2,269.3 984.4,247.0 986.7,252.6 988.4,257.0 990.7,264.8 992.9,256.5 994.6,275.9 996.9,271.2 998.8,255.2 1000.6,284.5 1002.7,260.9 1004.9,265.3 1006.7,275.7 1008.6,241.5" stroke="#b5417f" stroke-opacity="0.14" stroke-width="1.5" fill="none" stroke-linejoin="round"/>
<polyline points="809.0,190.2 811.4,176.7 813.2,188.2 815.7,167.0 817.9,172.0 820.3,172.6 822.4,175.7 824.6,174.7 826.7,172.2 829.0,175.3 831.2,199.1 833.0,171.9 835.1,188.8 837.3,190.4 839.2,189.7 841.5,201.9 843.7,205.2 845.9,227.3 847.8,184.4 850.1,180.9 852.3,186.9 854.6,177.4 856.6,189.6 858.9,217.4 860.9,217.2 863.0,209.0 864.9,211.2 866.8,208.2 868.8,217.6 871.3,222.2 873.3,208.8 875.3,208.4 877.3,225.8 879.3,210.2 881.4,217.7 883.8,208.7 885.9,172.5 887.8,235.7 889.7,220.3 892.1,220.3 894.6,240.5 896.8,227.6 898.9,218.8 900.9,222.4 903.1,188.2 905.0,210.5 906.9,242.5 909.3,232.6 911.6,248.3 913.8,228.0 916.2,236.5 918.1,188.6 920.1,217.1 922.5,254.7 924.8,232.2 927.0,249.5 929.5,246.7 931.7,220.1 934.0,224.4 936.2,242.1 938.3,248.9 940.5,236.5 942.9,260.9 945.4,250.9 947.5,248.7 949.7,245.8 951.9,268.3 954.4,259.3 956.7,249.9 959.0,247.3 961.4,243.8 963.7,247.9 966.0,253.4 968.1,258.3 970.1,258.4 972.5,253.8 974.4,292.3 976.6,257.3 978.8,248.9 981.3,251.5 983.2,250.0 985.2,266.8 987.4,252.9 989.6,263.6 991.5,268.0 994.0,258.3 996.2,262.5 998.2,273.9 1000.2,261.1 1002.3,282.7 1004.7,277.6 1007.0,274.4 1008.9,262.2" stroke="#b5417f" stroke-opacity="0.14" stroke-width="1.5" fill="none" stroke-linejoin="round"/>
<polyline points="846.0,223.8 848.1,224.7 850.0,223.2 852.0,197.8 853.9,240.2 855.9,217.7 857.9,186.4 859.8,229.8 861.6,234.8 863.6,228.1 865.3,214.5 867.4,191.0 869.6,222.2 871.8,218.6 873.6,239.9 875.8,195.9 877.7,220.8 879.7,201.1 881.6,238.2 883.8,216.2 885.6,209.9 887.6,211.5 889.5,219.6 891.6,222.6 893.5,220.3 895.5,245.6 897.3,225.8 899.5,221.3 901.8,236.6 903.6,236.2 905.8,231.0 907.8,218.0 909.6,224.5 911.9,225.8 913.6,259.5 915.7,259.4 917.7,238.4 919.9,243.8 921.8,233.2 923.6,224.8 925.5,225.6 927.5,250.8 929.6,254.8 931.5,244.9 933.6,230.8 935.4,258.3 937.6,204.3 939.5,260.7 941.7,231.1 943.7,248.1 946.0,246.0 948.0,262.9 949.8,262.0 951.5,260.4 953.4,243.4 955.4,229.2 957.7,277.1 959.4,255.3 961.6,266.1 963.6,266.0 965.8,249.9 967.8,270.2 969.8,248.4 971.7,258.9 973.6,254.5 975.9,264.0 978.1,264.8 980.1,273.0 982.2,265.2 984.4,268.8 986.2,243.7 988.5,290.6 990.2,275.1 992.0,272.5 994.2,256.6 996.3,296.7 998.5,277.9 1000.7,273.6 1002.5,273.6 1004.4,250.5 1006.2,269.4 1007.9,280.4 1010.0,267.8" stroke="#b5417f" stroke-opacity="0.14" stroke-width="1.5" fill="none" stroke-linejoin="round"/>
<polyline points="700.0,150.5 703.3,161.7 706.3,158.8 709.5,145.2 712.7,141.5 715.6,144.6 718.9,157.0 722.2,150.6 725.3,137.4 728.5,162.1 731.7,131.3 735.1,156.0 738.4,157.2 741.1,132.2 744.1,159.2 746.8,149.5 749.5,158.8 752.3,141.1 755.0,149.4 758.3,133.6 761.7,160.8 764.8,141.3 768.1,138.5 770.8,129.7 773.8,127.6 777.0,138.1 779.8,148.3 782.8,144.1 786.3,124.3 789.2,137.0 792.4,107.8 795.8,127.3 798.9,140.2" stroke="#b5417f" stroke-opacity="0.14" stroke-width="1.5" fill="none" stroke-linejoin="round"/>
<polyline points="815.0,114.8 817.8,129.6 820.3,132.1 823.0,113.5 825.6,106.5 827.9,139.0 830.6,122.1 833.3,119.5 835.6,128.9 838.0,132.4 840.4,136.2 843.3,132.5 846.2,126.7 848.8,148.0 851.6,137.6 853.9,138.5 856.4,137.6 859.3,152.7 862.1,151.4 865.1,158.1 867.7,142.2 870.1,155.8 872.4,126.3 874.7,149.5 877.6,142.7 880.0,135.1 882.5,145.8 885.2,145.8 887.9,162.2 890.4,161.8 893.3,163.0 896.0,171.8 898.7,144.1 901.2,183.0 903.7,157.3 906.0,162.7 908.7,186.2 911.6,185.0 913.9,161.2 916.5,170.7 918.7,182.2 921.2,187.0 923.8,153.0 926.3,177.0 928.9,185.7 931.6,186.6 934.0,190.2 936.6,165.6 939.3,190.5 941.9,184.3 944.2,204.5 946.9,155.4 949.6,199.4 952.4,181.5 954.7,179.7 957.3,197.5 959.9,168.4 962.6,196.0 964.9,194.5 967.6,198.3 970.0,196.4 972.5,194.2 974.9,210.0 977.8,218.1 980.4,220.6 983.2,206.6 986.2,203.8 989.0,208.9 991.6,206.9 993.9,222.3 996.8,203.5 999.3,198.3 1002.2,216.6 1004.9,220.5 1007.2,219.3 1009.8,212.0" stroke="#b5417f" stroke-opacity="0.14" stroke-width="1.5" fill="none" stroke-linejoin="round"/>
<polyline points="840.0,135.8 842.3,147.7 844.8,141.3 847.1,150.8 849.6,161.2 851.9,145.4 854.0,153.3 856.8,149.2 859.5,147.6 861.7,149.7 863.9,143.4 865.9,163.8 868.6,158.4 870.7,164.4 873.2,164.5 875.5,166.1 877.7,165.9 880.2,172.6 882.5,179.2 884.8,171.1 887.0,176.1 889.3,157.2 892.0,174.1 894.5,165.1 896.7,184.6 899.0,196.8 901.2,183.4 903.4,188.5 906.1,183.4 908.3,185.8 910.4,185.9 912.6,190.3 915.3,179.2 917.7,175.2 919.9,186.3 922.1,174.3 924.5,202.5 927.2,199.2 929.8,179.6 932.1,171.9 934.6,183.6 936.9,186.3 939.6,210.6 941.7,220.5 944.3,198.1 946.4,205.7 948.7,199.2 950.9,201.2 953.3,206.2 955.4,219.8 957.5,210.6 960.0,209.0 962.4,210.9 964.7,222.2 967.2,209.7 969.8,206.3 971.9,221.1 974.4,208.2 976.6,204.9 978.7,218.2 981.2,204.3 983.9,235.3 986.4,224.0 988.7,220.9 991.4,196.8 993.6,228.0 995.7,235.2 998.3,208.6 1000.5,201.1 1003.0,234.6 1005.0,240.2 1007.2,191.6 1009.8,208.3" stroke="#b5417f" stroke-opacity="0.14" stroke-width="1.5" fill="none" stroke-linejoin="round"/>
<polyline points="705.0,173.6 707.9,192.7 711.5,169.0 714.8,168.2 718.2,170.5 721.8,153.2 725.6,173.0 729.4,166.5 732.3,168.8 735.5,138.4 739.2,165.9 742.2,164.8 745.9,156.6 749.3,172.0 752.6,162.9 755.6,182.5 759.1,158.6 762.8,160.2 765.9,174.8 769.2,176.7 772.6,157.5 776.3,156.9 779.2,173.0 782.2,159.5 785.9,157.0 789.0,169.5 792.8,153.8 796.5,140.2" stroke="#b5417f" stroke-opacity="0.14" stroke-width="1.5" fill="none" stroke-linejoin="round"/>
<polyline points="812.0,98.8 814.3,66.3 816.4,143.3 818.4,140.7 820.3,160.3 822.4,70.2 824.5,138.4 826.3,142.5 828.2,90.2 830.1,130.5 832.3,77.9 834.2,153.1 836.0,86.3 838.0,81.7 839.9,84.5" stroke="#b5417f" stroke-opacity="0.14" stroke-width="1.5" fill="none" stroke-linejoin="round"/>
<polyline points="815.8,160.0 817.0,85.0 818.2,160.0" stroke="#b5417f" stroke-opacity="0.14" stroke-width="1.5" fill="none" stroke-linejoin="round"/>
<polyline points="818.8,170.0 820.0,60.0 821.2,170.0" stroke="#b5417f" stroke-opacity="0.14" stroke-width="1.5" fill="none" stroke-linejoin="round"/>
<polyline points="821.8,150.0 823.0,72.0 824.2,150.0" stroke="#b5417f" stroke-opacity="0.14" stroke-width="1.5" fill="none" stroke-linejoin="round"/>
<polyline points="824.8,180.0 826.0,58.0 827.2,180.0" stroke="#b5417f" stroke-opacity="0.14" stroke-width="1.5" fill="none" stroke-linejoin="round"/>
<polyline points="827.8,160.0 829.0,68.0 830.2,160.0" stroke="#b5417f" stroke-opacity="0.14" stroke-width="1.5" fill="none" stroke-linejoin="round"/>
<polyline points="830.8,175.0 832.0,90.0 833.2,175.0" stroke="#b5417f" stroke-opacity="0.14" stroke-width="1.5" fill="none" stroke-linejoin="round"/>
<polyline points="834.8,170.0 836.0,100.0 837.2,170.0" stroke="#b5417f" stroke-opacity="0.14" stroke-width="1.5" fill="none" stroke-linejoin="round"/>
<polyline points="708.0,135.0 733.0,131.0 760.0,134.0" stroke="#b5417f" stroke-opacity="0.14" stroke-width="1.5" fill="none" stroke-linejoin="round"/>
<polyline points="676.0,153.3 678.2,149.0 680.9,126.8 683.6,147.8 686.0,142.5 688.5,140.8 690.6,146.7 693.3,152.6 695.6,141.3 697.8,159.4 700.4,156.1 702.8,161.1 704.9,158.0 707.6,161.5 710.2,154.2" stroke="#b5417f" stroke-opacity="0.14" stroke-width="1.5" fill="none" stroke-linejoin="round"/>
<polyline points="730.0,77.0 751.0,83.0 757.0,121.0 790.0,150.0 830.0,170.0" stroke="#b5417f" stroke-opacity="0.14" stroke-width="1.5" fill="none" stroke-linejoin="round"/>
<polyline points="778.0,90.0 816.0,131.0 850.0,150.0" stroke="#b5417f" stroke-opacity="0.14" stroke-width="1.5" fill="none" stroke-linejoin="round"/>
<polyline points="780.0,145.0 866.0,214.0 900.0,235.0" stroke="#b5417f" stroke-opacity="0.14" stroke-width="1.5" fill="none" stroke-linejoin="round"/>
<polyline points="807.0,127.0 880.0,170.0 940.0,214.0 1000.0,250.0" stroke="#b5417f" stroke-opacity="0.14" stroke-width="1.5" fill="none" stroke-linejoin="round"/>
</g>
<polyline points="624.1,89.8 642.3,105.8 650.1,130.0 660.2,146.4 672.8,148.2 679.1,168.4 685.5,148.9 691.8,160.8 698.1,162.3 704.4,156.5 715.8,175.5 722.1,170.9 728.4,188.1 733.9,196.9 738.2,188.6 746.4,195.2 753.0,171.2 759.5,164.6 769.4,159.0 776.0,176.1 782.5,168.9 789.1,179.4 793.6,172.1 799.1,190.3 805.2,214.5 811.8,231.7 818.3,223.6 826.4,223.0 836.5,209.5 843.5,212.9 849.6,224.6 854.6,221.6 865.8,225.0 873.0,254.1 878.3,237.8 885.3,237.8 891.7,264.7 899.5,248.4 906.5,254.8 911.8,253.0 917.1,268.9 926.0,276.0 934.8,261.9 945.4,280.2 956.0,276.0 966.6,284.8 975.4,291.9 982.5,277.8 991.3,282.4 1001.9,295.4 1005.5,297.2 1012.5,281.3" stroke="#b5417f" stroke-width="1.8" fill="none" stroke-linejoin="round"/>
<polyline points="624.1,95.9 642.3,94.7 654.4,98.2 660.5,89.4 666.5,117.1 672.6,99.7 678.6,118.2 684.7,107.3 693.8,113.3 702.9,125.2 715.2,114.5 722.7,121.3 732.8,119.5 745.5,131.4 756.8,120.3 768.2,127.1 775.8,123.3 783.3,137.2 790.0,130.2 801.4,130.8 806.4,147.2 812.1,138.4 824.7,146.0 830.4,134.6 836.7,140.3 843.0,137.1 849.3,147.2 859.4,142.2 865.9,137.2 873.0,130.1 878.3,144.2 890.6,140.7 897.7,167.9 903.0,137.2 910.1,144.2 920.7,153.1 926.0,144.2 933.0,161.9 943.6,166.5 952.5,151.3 959.5,149.5 964.8,160.1 975.4,173.6 987.8,152.4 996.6,165.4 1000.2,161.9 1007.2,173.6 1012.5,163.0" stroke="#2e6dc8" stroke-width="1.8" fill="none" stroke-linejoin="round"/>
<polyline points="624.16,101.00 633.87,102.69 643.58,104.38 653.29,106.07 663.00,107.76 672.70,109.45 682.41,111.14 692.12,112.83 701.83,114.52 711.54,116.21 721.25,117.90 730.96,119.59 740.67,121.28 750.38,122.97 760.09,124.66 769.80,126.35 779.51,128.04 789.21,129.73 798.92,131.42 808.63,133.10 818.34,134.79 828.05,136.48 837.76,138.17 847.47,139.86 857.18,141.55 866.89,143.24 876.60,144.93 886.31,146.62 896.02,148.31 905.73,150.00 915.43,151.69 925.14,153.38 934.85,155.07 944.56,156.76 954.27,158.45 963.98,160.14 973.69,161.83 983.40,163.52 993.11,165.21 1002.82,166.90 1012.53,168.59" stroke="#2e6dc8" stroke-width="3.04" stroke-dasharray="10.33,5.17" fill="none"/>
<polyline points="624.16,120.19 633.87,124.74 643.58,129.29 653.29,133.84 663.00,138.39 672.70,142.94 682.41,147.49 692.12,152.04 701.83,156.59 711.54,161.15 721.25,165.70 730.96,170.25 740.67,174.80 750.38,179.35 760.09,183.90 769.80,188.45 779.51,193.00 789.21,197.55 798.92,202.11 808.63,206.66 818.34,211.21 828.05,215.76 837.76,220.31 847.47,224.86 857.18,229.41 866.89,233.96 876.60,238.51 886.31,243.07 896.02,247.62 905.73,252.17 915.43,256.72 925.14,261.27 934.85,265.82 944.56,270.37 954.27,274.92 963.98,279.48 973.69,284.03 983.40,288.58 993.11,293.13 1002.82,297.68 1012.53,302.23" stroke="#b5417f" stroke-width="3.04" stroke-dasharray="10.33,5.17" fill="none"/>
</g>
<rect x="606.40" y="271.00" width="273.30" height="52.50" rx="2.5" fill="#ffffff" fill-opacity="0.8" stroke="#d6d6d6" stroke-width="0.9"/>
<path d="M611.87,285.18h10.53M627.05,285.18h10.73" stroke="#2e6dc8" stroke-width="2.83"/>
<path d="M611.87,309.98h10.53M627.05,309.98h10.73" stroke="#b5417f" stroke-width="2.83"/>
<text transform="translate(653.06,290.60) scale(1.0294,1)" font-size="15.60" class="sans">ID:</text>
<text transform="translate(678.42,290.60) scale(0.9517,1)" font-size="15.60" class="sans"><tspan font-style="italic">L</tspan>(<tspan font-style="italic">C</tspan>)</text>
<text transform="translate(711.48,290.60) scale(1.2267,1)" font-size="15.60" class="sans">=</text>
<text transform="translate(726.54,290.60) scale(1.0614,1)" font-size="15.60" class="sans">(3.3</text>
<text transform="translate(757.75,290.60) scale(1.0000,1)" font-size="15.60" class="sans">·</text>
<text transform="translate(765.30,290.60) scale(1.0387,1)" font-size="15.60" class="sans">10</text>
<text transform="translate(784.74,284.60) scale(1.1130,1)" font-size="10.92" class="sans">−6</text>
<text transform="translate(798.90,290.60) scale(1.0380,1)" font-size="15.60" class="sans">/<tspan font-style="italic">C</tspan>)</text>
<text transform="translate(820.38,284.60) scale(1.0476,1)" font-size="10.92" class="sans">0.062</text>
<text transform="translate(653.46,314.90) scale(0.9828,1)" font-size="15.60" class="sans">OOD:</text>
<text transform="translate(697.32,314.90) scale(0.9621,1)" font-size="15.60" class="sans"><tspan font-style="italic">L</tspan>(<tspan font-style="italic">C</tspan>)</text>
<text transform="translate(729.84,314.90) scale(1.2800,1)" font-size="15.60" class="sans">=</text>
<text transform="translate(744.47,314.90) scale(1.0280,1)" font-size="15.60" class="sans">(4.2</text>
<text transform="translate(775.40,314.90) scale(1.0000,1)" font-size="15.60" class="sans">·</text>
<text transform="translate(783.07,314.90) scale(1.0645,1)" font-size="15.60" class="sans">10</text>
<text transform="translate(802.57,308.90) scale(1.0648,1)" font-size="10.92" class="sans">−10</text>
<text transform="translate(823.90,314.90) scale(0.9620,1)" font-size="15.60" class="sans">/<tspan font-style="italic">C</tspan>)</text>
<text transform="translate(844.57,308.90) scale(1.0629,1)" font-size="10.92" class="sans">0.167</text>
<rect x="605.00" y="42.50" width="427.50" height="283.00" fill="none" stroke="#585858" stroke-width="1"/>
<path d="M660.50,325.50v3.04M721.50,325.50v3.04M782.50,325.50v3.04M843.50,325.50v3.04M903.50,325.50v3.04M964.50,325.50v3.04M1025.50,325.50v3.04M618.50,325.50v1.62M629.50,325.50v1.62M636.50,325.50v1.62M642.50,325.50v1.62M647.50,325.50v1.62M651.50,325.50v1.62M655.50,325.50v1.62M658.50,325.50v1.62M679.50,325.50v1.62M689.50,325.50v1.62M697.50,325.50v1.62M703.50,325.50v1.62M708.50,325.50v1.62M712.50,325.50v1.62M715.50,325.50v1.62M718.50,325.50v1.62M739.50,325.50v1.62M750.50,325.50v1.62M758.50,325.50v1.62M764.50,325.50v1.62M768.50,325.50v1.62M772.50,325.50v1.62M776.50,325.50v1.62M779.50,325.50v1.62M800.50,325.50v1.62M811.50,325.50v1.62M818.50,325.50v1.62M824.50,325.50v1.62M829.50,325.50v1.62M833.50,325.50v1.62M837.50,325.50v1.62M840.50,325.50v1.62M861.50,325.50v1.62M872.50,325.50v1.62M879.50,325.50v1.62M885.50,325.50v1.62M890.50,325.50v1.62M894.50,325.50v1.62M897.50,325.50v1.62M901.50,325.50v1.62M922.50,325.50v1.62M932.50,325.50v1.62M940.50,325.50v1.62M946.50,325.50v1.62M951.50,325.50v1.62M955.50,325.50v1.62M958.50,325.50v1.62M961.50,325.50v1.62M982.50,325.50v1.62M993.50,325.50v1.62M1001.50,325.50v1.62M1006.50,325.50v1.62M1011.50,325.50v1.62M1015.50,325.50v1.62M1019.50,325.50v1.62M1022.50,325.50v1.62M605.00,325.50h-2.73M605.00,155.50h-2.73M605.00,103.50h-2.73M605.00,73.50h-2.73M605.00,52.50h-2.73" stroke="#585858" stroke-width="1" fill="none"/>
<text x="598.42" y="331.99" font-size="20.25" text-anchor="end" class="serif">0.1</text>
<text x="598.42" y="161.53" font-size="20.25" text-anchor="end" class="serif">1.0</text>
<text x="598.42" y="110.21" font-size="20.25" text-anchor="end" class="serif">2.0</text>
<text x="598.42" y="80.20" font-size="20.25" text-anchor="end" class="serif">3.0</text>
<text x="598.42" y="58.90" font-size="20.25" text-anchor="end" class="serif">4.0</text>
<text x="661.51" y="350.72" font-size="20.25" text-anchor="middle" class="serif">10<tspan dy="-13.47" font-size="14.17">&#8722;10</tspan></text>
<text x="722.24" y="350.72" font-size="20.25" text-anchor="middle" class="serif">10<tspan dy="-13.47" font-size="14.17">&#8722;9</tspan></text>
<text x="782.97" y="350.72" font-size="20.25" text-anchor="middle" class="serif">10<tspan dy="-13.47" font-size="14.17">&#8722;8</tspan></text>
<text x="843.70" y="350.72" font-size="20.25" text-anchor="middle" class="serif">10<tspan dy="-13.47" font-size="14.17">&#8722;7</tspan></text>
<text x="904.43" y="350.72" font-size="20.25" text-anchor="middle" class="serif">10<tspan dy="-13.47" font-size="14.17">&#8722;6</tspan></text>
<text x="965.16" y="350.72" font-size="20.25" text-anchor="middle" class="serif">10<tspan dy="-13.47" font-size="14.17">&#8722;5</tspan></text>
<text x="1025.89" y="350.72" font-size="20.25" text-anchor="middle" class="serif">10<tspan dy="-13.47" font-size="14.17">&#8722;4</tspan></text>
<text x="818.75" y="373.29" font-size="20.25" text-anchor="middle" class="serif">Compute [PF-days]</text>
<text transform="translate(566.32,185.00) rotate(-90)" font-size="20.25" text-anchor="middle" class="serif">MAPE</text>
</svg></body></html>
